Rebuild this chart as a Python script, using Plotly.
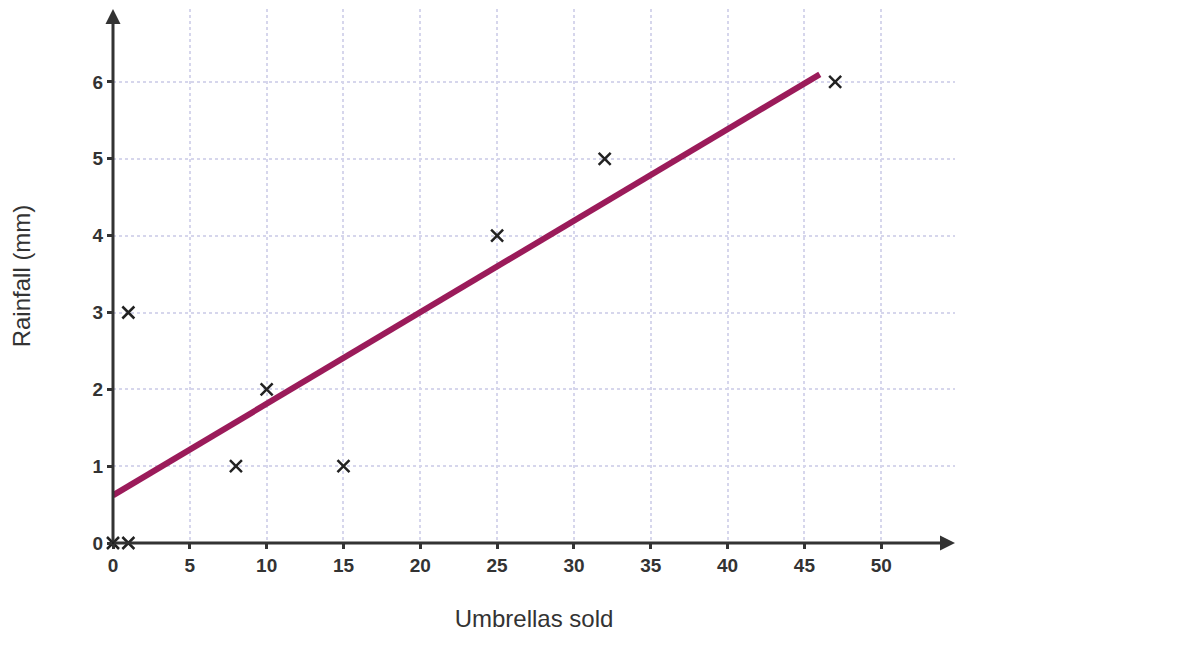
import plotly.graph_objects as go

umbrellas = [0, 1, 1, 8, 10, 15, 25, 32, 47]
rainfall = [0, 0, 3, 1, 2, 1, 4, 5, 6]
fit_x = [0, 46]
fit_y = [0.62, 6.1]
xticks = [0, 5, 10, 15, 20, 25, 30, 35, 40, 45, 50]
yticks = [0, 1, 2, 3, 4, 5, 6]
XMAX, YMAX = 54.8, 6.95

fig = go.Figure()
fig.add_trace(go.Scatter(x=fit_x, y=fit_y, mode="lines",
                         line=dict(color="#9b1b5a", width=6), cliponaxis=False))
fig.add_trace(go.Scatter(x=umbrellas, y=rainfall, mode="markers", cliponaxis=False,
                         marker=dict(symbol="x-thin", size=12, line=dict(width=2.5, color="#222"))))
fig.add_annotation(x=XMAX, y=0, ax=0, ay=0, xref="x", yref="y", axref="x", ayref="y",
                   showarrow=True, arrowhead=2, arrowsize=1, arrowwidth=3, arrowcolor="#333", text="")
fig.add_annotation(x=0, y=YMAX, ax=0, ay=0, xref="x", yref="y", axref="x", ayref="y",
                   showarrow=True, arrowhead=2, arrowsize=1, arrowwidth=3, arrowcolor="#333", text="")
tf = dict(size=19, family="Arial, Liberation Sans", color="#333")
fig.update_layout(
    width=1200, height=661, plot_bgcolor="white", paper_bgcolor="white",
    margin=dict(l=105, r=253, t=1, b=126, autoexpand=False), showlegend=False,
    font=dict(family="Arial, Liberation Sans", color="#333"),
    xaxis=dict(range=[0, XMAX], tickvals=xticks, ticktext=[f"<b>{t}</b>" for t in xticks],
               ticks="outside", ticklen=5, tickwidth=3,
               tickcolor="#333", showgrid=True, gridcolor="#d6d6ec", griddash="dot", gridwidth=1.5,
               zeroline=False, tickfont=tf,
               title=dict(text="Umbrellas sold", font=dict(size=24), standoff=35)),
    yaxis=dict(range=[0, YMAX], tickvals=yticks, ticktext=[f"<b>{t}</b>" for t in yticks],
               ticks="outside", ticklen=5, tickwidth=3,
               tickcolor="#333", showgrid=True, gridcolor="#d6d6ec", griddash="dot", gridwidth=1.5,
               zeroline=False, tickfont=tf,
               title=dict(text="Rainfall (mm)", font=dict(size=24), standoff=60)),
)
fig.write_html("out.html")
